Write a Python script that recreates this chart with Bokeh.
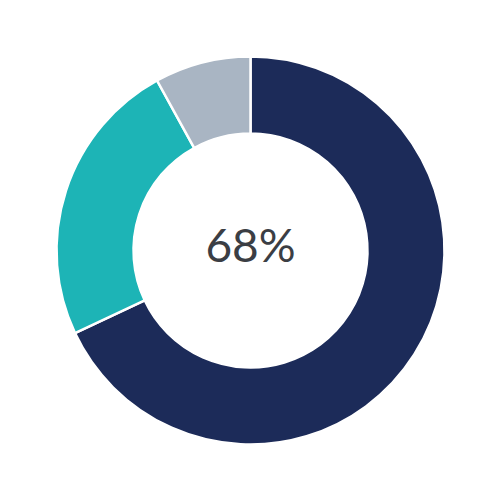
from math import pi
from bokeh.plotting import figure
from bokeh.models import ColumnDataSource, Range1d
from bokeh.core.properties import value
from bokeh.embed import file_html
from bokeh.resources import INLINE

categories = ["Primary", "Secondary", "Other"]
shares = [68, 24, 8]
colors = ["#1c2b59", "#1db4b6", "#a9b5c3"]
center_label = "68%"

total = sum(shares)
starts, ends = [], []
acc = 0.0
for s in shares:
    starts.append(pi / 2 - acc / total * 2 * pi)
    acc += s
    ends.append(pi / 2 - acc / total * 2 * pi)

src = ColumnDataSource(dict(cat=categories, share=shares, color=colors,
                            start=starts, end=ends))

p = figure(width=484, height=484, output_backend="svg", toolbar_location=None,
           x_range=Range1d(-250, 234), y_range=Range1d(-234, 250),
           min_border=0)
p.axis.visible = False
p.grid.visible = False
p.outline_line_color = None
p.background_fill_color = "white"

p.annular_wedge(x=0, y=0, inner_radius=117, outer_radius=194,
                start_angle="start", end_angle="end", direction="clock",
                fill_color="color", line_color="white", line_width=2.5,
                source=src)

p.text(x=[0], y=[6], text=[center_label], text_align="center",
       text_baseline="middle", text_font=value("Lato"),
       text_font_size="46px", text_color="#3b3e44")

open("out.html", "w").write(file_html(p, INLINE))
